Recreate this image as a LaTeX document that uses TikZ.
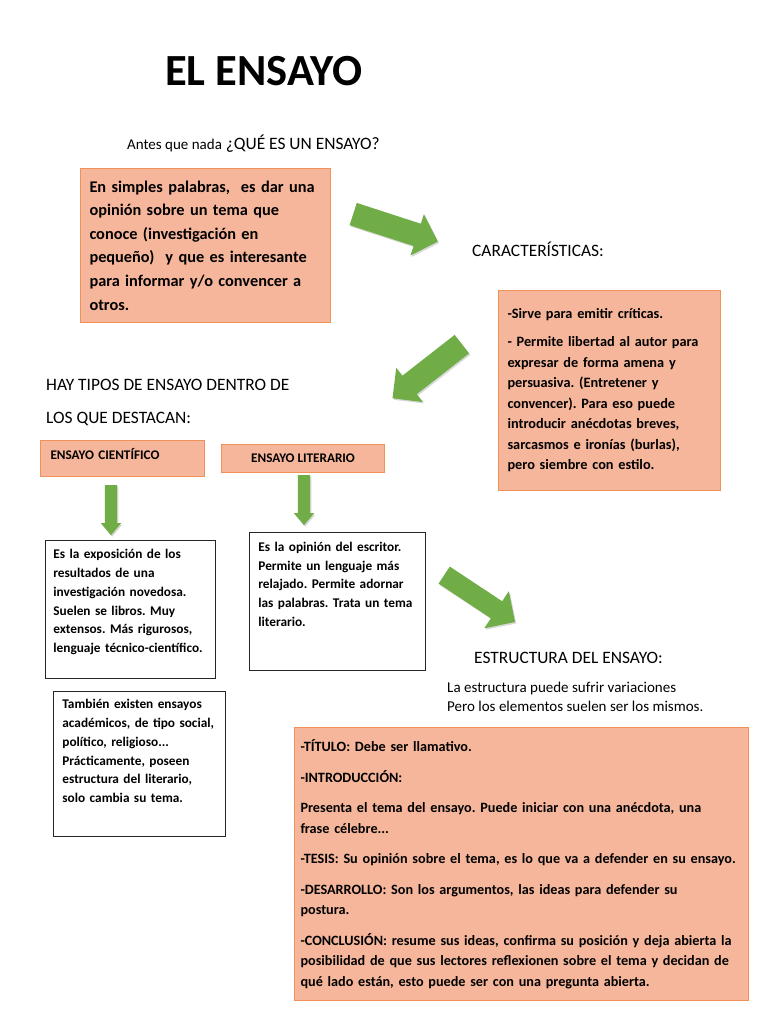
\documentclass[tikz,border=0pt]{standalone}
\usepackage{fontspec}
\setmainfont{Carlito}
\usetikzlibrary{shapes.arrows,shadows}
\definecolor{EssayFill}{RGB}{246,182,155}
\definecolor{EssayLine}{RGB}{240,146,88}
\definecolor{ArrowGreen}{RGB}{112,173,71}
\hyphenpenalty=10000
\exhyphenpenalty=10000
\frenchspacing
\newcommand{\fsz}[2]{\fontsize{#1}{#2}\selectfont}
\tikzset{
  obox/.style={draw=EssayLine, fill=EssayFill, line width=1pt, align=left,
    anchor=north west, inner ysep=0pt},
  wbox/.style={draw=black!85, line width=0.8pt, fill=white, align=left,
    anchor=north west, font=\bfseries\fsz{13.3}{18.8}},
  head/.style={anchor=base west, inner sep=0pt, font=\fsz{17.4}{20}},
  garrow/.style={single arrow, fill=ArrowGreen, draw=none, inner xsep=0pt, inner ysep=11.5pt,
    minimum width=0pt, single arrow head extend=10pt, minimum height=88pt, anchor=tail,
    drop shadow={opacity=.3, shadow xshift=1.2pt, shadow yshift=-1.5pt}},
  darrow/.style={garrow, inner ysep=6pt, single arrow head extend=4pt,
    single arrow tip angle=80, minimum height=50pt, rotate=-90},
}

\begin{document}
\begin{tikzpicture}[x=1pt, y=-1pt]
\path[fill=white, use as bounding box] (0,0) rectangle (768,1024);

% title and question
\node[anchor=base west, inner sep=0pt, font=\bfseries\fsz{44.5}{50}] (title) at (165,86) {EL ENSAYO};
\node[head] (question) at (127,150) {{\fsz{15}{18}Antes que nada} ¿QUÉ ES UN ENSAYO?};

\node[obox, minimum width=250pt, minimum height=154pt, text width=232pt, inner xsep=9pt,
      font=\bfseries\fsz{16.3}{23.6}] (defin) at (80,168)
  {En simples palabras, \ es dar una\\ opinión sobre un tema que\\ conoce (investigación en\\
   pequeño) \ y que es interesante\\ para informar y/o convencer a\\ otros.};

% caracteristicas
\node[garrow, rotate=-18, minimum height=89pt] (arrcar) at (353,214) {};
\node[head] (carac) at (472,256) {CARACTERÍSTICAS:};
\node[obox, minimum width=222pt, minimum height=200pt, text width=204pt, inner xsep=9pt,
      font=\bfseries\fsz{14.3}{20.5}] (caracbox) at (498,290)
  {-Sirve para emitir críticas.\\[7.5pt]
   - Permite libertad al autor para\\ expresar de forma amena y\\ persuasiva. (Entretener y\\
   convencer). Para eso puede\\ introducir anécdotas breves,\\ sarcasmos e ironías (burlas),\\
   pero siembre con estilo.};

% tipos de ensayo
\node[garrow, rotate=-142] (arrtipos) at (462,344) {};
\node[head] (tipos1) at (46,390) {HAY TIPOS DE ENSAYO DENTRO DE};
\node[head] (tipos2) at (46,423) {LOS QUE DESTACAN:};

\node[obox, minimum width=164pt, minimum height=36pt, text width=144pt, inner xsep=10pt,
      text depth=9pt, font=\bfseries\fsz{13.2}{16}] (cient) at (40,440) {ENSAYO CIENTÍFICO};
\node[obox, minimum width=163pt, minimum height=28pt, align=center,
      font=\bfseries\fsz{13.2}{16}] (liter) at (221,444) {ENSAYO LITERARIO};

\node[darrow] (arrcient) at (111,485) {};
\node[darrow] (arrliter) at (304,475) {};

\node[wbox, minimum width=170pt, text width=154pt, inner xsep=8pt, inner ysep=9pt,
      text depth=111pt] (cientbox) at (45,540)
  {Es la exposición de los\\ resultados de una\\ investigación novedosa.\\ Suelen se libros. Muy\\
   extensos. Más rigurosos,\\ lenguaje técnico-científico.};
\node[wbox, minimum width=176pt, text width=158pt, inner xsep=9pt, inner ysep=9.5pt,
      text depth=110pt] (literbox) at (249,532)
  {Es la opinión del escritor.\\ Permite un lenguaje más\\ relajado. Permite adornar\\
   las palabras. Trata un tema\\ literario.};
\node[wbox, minimum width=172pt, text width=154pt, inner xsep=9pt, inner ysep=8pt,
      text depth=120pt] (otrosbox) at (53,691)
  {También existen ensayos\\ académicos, de tipo social,\\ político, religioso...\\
   Prácticamente, poseen\\ estructura del literario,\\ solo cambia su tema.};

% estructura
\node[garrow, rotate=-33.5, minimum height=85pt, inner ysep=10pt,
      single arrow head extend=12pt] (arrestr) at (444,575) {};
\node[head] (estr) at (474,663) {ESTRUCTURA DEL ENSAYO:};
\node[anchor=north west, inner sep=0pt, align=left, font=\fsz{15}{19}] (estrnote) at (447,682)
  {La estructura puede sufrir variaciones\\ Pero los elementos suelen ser los mismos.};

\node[obox, minimum width=454pt, minimum height=273pt, text width=442pt, inner xsep=6pt,
      font=\bfseries\fsz{14.2}{20.5}] (estrbox) at (294,727)
  {-TÍTULO: Debe ser llamativo.\\[10pt]
   -INTRODUCCIÓN:\\[10pt]
   Presenta el tema del ensayo. Puede iniciar con una anécdota, una\\ frase célebre...\\[10pt]
   -TESIS: Su opinión sobre el tema, es lo que va a defender en su ensayo.\\[10pt]
   -DESARROLLO: Son los argumentos, las ideas para defender su\\ postura.\\[10pt]
   -CONCLUSIÓN: resume sus ideas, confirma su posición y deja abierta la\\
   posibilidad de que sus lectores reflexionen sobre el tema y decidan de\\
   qué lado están, esto puede ser con una pregunta abierta.};

\end{tikzpicture}
\end{document}
